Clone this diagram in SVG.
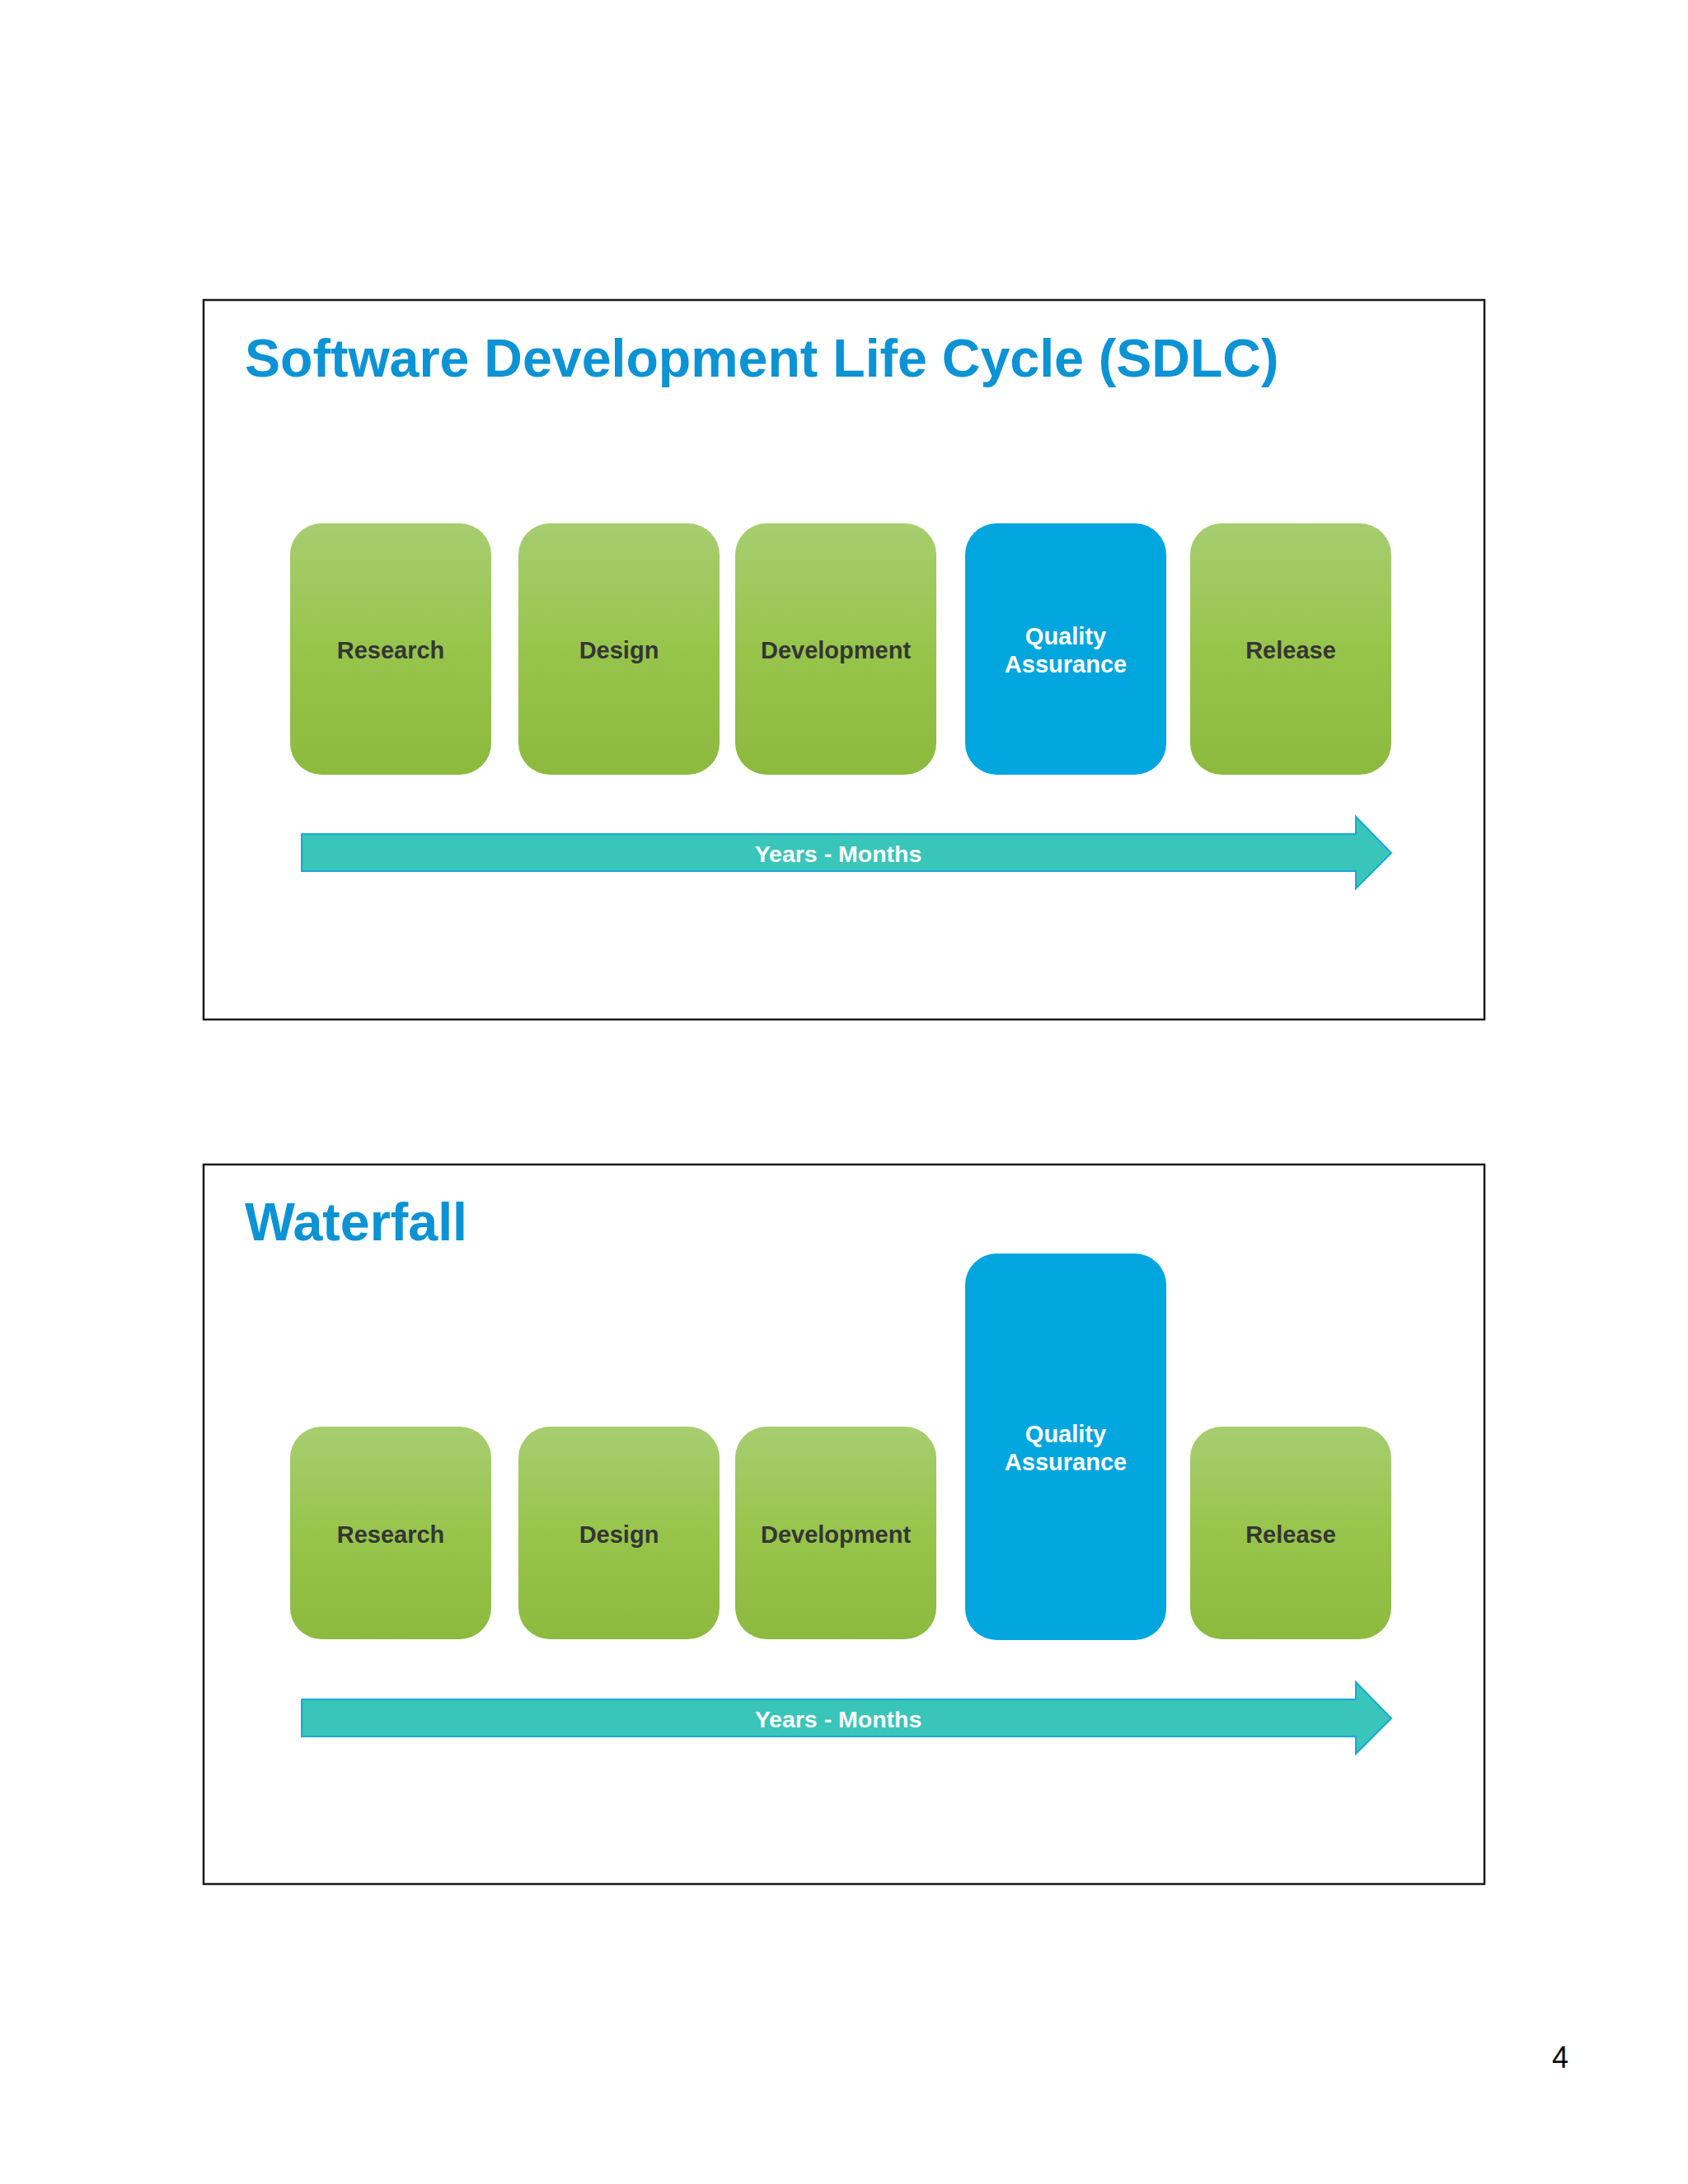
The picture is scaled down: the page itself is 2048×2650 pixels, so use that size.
<svg xmlns="http://www.w3.org/2000/svg" width="2048" height="2650" viewBox="0 0 2048 2650">
<defs>
<linearGradient id="green" x1="0" y1="0" x2="0" y2="1">
<stop offset="0" stop-color="#A7CD70"/>
<stop offset="0.5" stop-color="#97C54B"/>
<stop offset="1" stop-color="#8BBA3E"/>
</linearGradient>
<style>
.frame{fill:#FFFFFF;stroke:#1A1A1A;stroke-width:2.5}
.title{font-family:"Liberation Sans",Arial,sans-serif;font-weight:bold;font-size:64.5px;fill:#0B93D5}
.gbox{fill:url(#green)}
.bbox{fill:#01A6DF}
.lbl{font-family:"Liberation Sans",Arial,sans-serif;font-weight:bold;font-size:29px;fill:#353535;text-anchor:middle}
.wlbl{font-family:"Liberation Sans",Arial,sans-serif;font-weight:bold;font-size:29px;fill:#FFFFFF;text-anchor:middle}
.alb{font-family:"Liberation Sans",Arial,sans-serif;font-weight:bold;font-size:28.5px;fill:#FFFFFF;text-anchor:middle}
.arrow{fill:#39C5B9;stroke:#16A9D8;stroke-width:2;stroke-linejoin:miter}
.page{font-family:"Liberation Sans",Arial,sans-serif;font-size:36px;fill:#000000}
</style>
</defs>
<rect width="2048" height="2650" fill="#FFFFFF"/>

<!-- Slide 1 -->
<g id="slide1">
<rect class="frame" x="247" y="364" width="1554" height="873"/>
<text class="title" x="297" y="457">Software Development Life Cycle (SDLC)</text>
</g>
<g id="s1-research"><rect class="gbox" x="352" y="635" width="244" height="305" rx="38"/><text class="lbl" x="474" y="799">Research</text></g>
<g id="s1-design"><rect class="gbox" x="629" y="635" width="244" height="305" rx="38"/><text class="lbl" x="751" y="799">Design</text></g>
<g id="s1-development"><rect class="gbox" x="892" y="635" width="244" height="305" rx="38"/><text class="lbl" x="1014" y="799">Development</text></g>
<g id="s1-qa"><rect class="bbox" x="1171" y="635" width="244" height="305" rx="38"/><text class="wlbl" x="1293" y="782">Quality</text><text class="wlbl" x="1293" y="816">Assurance</text></g>
<g id="s1-release"><rect class="gbox" x="1444" y="635" width="244" height="305" rx="38"/><text class="lbl" x="1566" y="799">Release</text></g>
<g id="s1-timeline">
<path class="arrow" d="M366,1012 L1645,1012 L1645,991 L1688,1035 L1645,1078 L1645,1057 L366,1057 Z"/>
<text class="alb" x="1017" y="1046">Years - Months</text>
</g>

<!-- Slide 2 -->
<g id="slide2">
<rect class="frame" x="247" y="1413" width="1554" height="873"/>
<text class="title" x="297" y="1505">Waterfall</text>
</g>
<g id="s2-research"><rect class="gbox" x="352" y="1731" width="244" height="258" rx="38"/><text class="lbl" x="474" y="1872">Research</text></g>
<g id="s2-design"><rect class="gbox" x="629" y="1731" width="244" height="258" rx="38"/><text class="lbl" x="751" y="1872">Design</text></g>
<g id="s2-development"><rect class="gbox" x="892" y="1731" width="244" height="258" rx="38"/><text class="lbl" x="1014" y="1872">Development</text></g>
<g id="s2-qa"><rect class="bbox" x="1171" y="1521" width="244" height="469" rx="38"/><text class="wlbl" x="1293" y="1750">Quality</text><text class="wlbl" x="1293" y="1784">Assurance</text></g>
<g id="s2-release"><rect class="gbox" x="1444" y="1731" width="244" height="258" rx="38"/><text class="lbl" x="1566" y="1872">Release</text></g>
<g id="s2-timeline">
<path class="arrow" d="M366,2062 L1645,2062 L1645,2041 L1688,2085 L1645,2128 L1645,2107 L366,2107 Z"/>
<text class="alb" x="1017" y="2096">Years - Months</text>
</g>

<text class="page" x="1883" y="2509">4</text>
</svg>
